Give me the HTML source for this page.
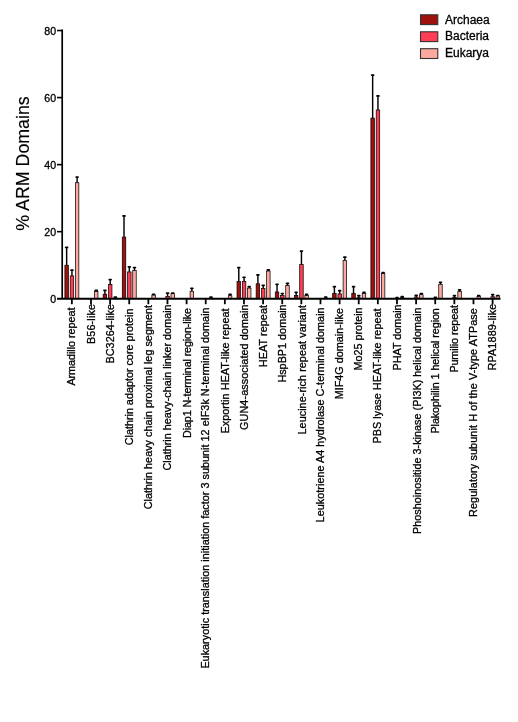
<!DOCTYPE html>
<html><head><meta charset="utf-8"><title>ARM domains</title>
<style>
html,body{margin:0;padding:0;background:#fff;}
svg{display:block;}
text{font-family:"Liberation Sans",Arial,sans-serif;fill:#000;stroke:#000;stroke-width:0.3px;}
</style></head><body>
<svg width="518" height="722" viewBox="0 0 518 722">
<rect width="518" height="722" fill="#fff"/>
<g><rect x="64.90" y="265.18" width="3.5" height="33.52" fill="#9e110d" stroke="#000" stroke-width="0.72"/>
<line x1="66.65" y1="265.18" x2="66.65" y2="247.41" stroke="#000" stroke-width="1.45"/>
<line x1="65.70" y1="247.41" x2="67.60" y2="247.41" stroke="#000" stroke-width="1.7" stroke-linecap="round"/>
<rect x="70.20" y="275.91" width="3.5" height="22.79" fill="#ff3e55" stroke="#000" stroke-width="0.72"/>
<line x1="71.95" y1="275.91" x2="71.95" y2="270.21" stroke="#000" stroke-width="1.45"/>
<line x1="71.00" y1="270.21" x2="72.90" y2="270.21" stroke="#000" stroke-width="1.7" stroke-linecap="round"/>
<rect x="75.35" y="182.72" width="3.5" height="115.98" fill="#ffa8a0" stroke="#000" stroke-width="0.72"/>
<line x1="77.10" y1="182.72" x2="77.10" y2="177.02" stroke="#000" stroke-width="1.45"/>
<line x1="76.15" y1="177.02" x2="78.05" y2="177.02" stroke="#000" stroke-width="1.7" stroke-linecap="round"/>
<rect x="94.47" y="291.33" width="3.5" height="7.37" fill="#ffa8a0" stroke="#000" stroke-width="0.72"/>
<line x1="96.22" y1="291.33" x2="96.22" y2="290.39" stroke="#000" stroke-width="1.45"/>
<line x1="95.27" y1="290.39" x2="97.17" y2="290.39" stroke="#000" stroke-width="1.7" stroke-linecap="round"/>
<rect x="103.15" y="294.17" width="3.5" height="4.53" fill="#9e110d" stroke="#000" stroke-width="0.72"/>
<line x1="104.90" y1="294.17" x2="104.90" y2="290.39" stroke="#000" stroke-width="1.45"/>
<line x1="103.95" y1="290.39" x2="105.85" y2="290.39" stroke="#000" stroke-width="1.7" stroke-linecap="round"/>
<rect x="108.45" y="284.39" width="3.5" height="14.31" fill="#ff3e55" stroke="#000" stroke-width="0.72"/>
<line x1="110.20" y1="284.39" x2="110.20" y2="279.59" stroke="#000" stroke-width="1.45"/>
<line x1="109.25" y1="279.59" x2="111.15" y2="279.59" stroke="#000" stroke-width="1.7" stroke-linecap="round"/>
<rect x="113.60" y="298.03" width="3.5" height="0.67" fill="#ffa8a0" stroke="#000" stroke-width="0.72"/>
<line x1="115.35" y1="298.03" x2="115.35" y2="297.02" stroke="#000" stroke-width="1.45"/>
<line x1="114.40" y1="297.02" x2="116.30" y2="297.02" stroke="#000" stroke-width="1.7" stroke-linecap="round"/>
<rect x="122.27" y="237.09" width="3.5" height="61.61" fill="#9e110d" stroke="#000" stroke-width="0.72"/>
<line x1="124.02" y1="237.09" x2="124.02" y2="215.91" stroke="#000" stroke-width="1.45"/>
<line x1="123.07" y1="215.91" x2="124.97" y2="215.91" stroke="#000" stroke-width="1.7" stroke-linecap="round"/>
<rect x="127.57" y="271.98" width="3.5" height="26.72" fill="#ff3e55" stroke="#000" stroke-width="0.72"/>
<line x1="129.32" y1="271.98" x2="129.32" y2="266.86" stroke="#000" stroke-width="1.45"/>
<line x1="128.38" y1="266.86" x2="130.27" y2="266.86" stroke="#000" stroke-width="1.7" stroke-linecap="round"/>
<rect x="132.72" y="270.54" width="3.5" height="28.16" fill="#ffa8a0" stroke="#000" stroke-width="0.72"/>
<line x1="134.47" y1="270.54" x2="134.47" y2="267.53" stroke="#000" stroke-width="1.45"/>
<line x1="133.53" y1="267.53" x2="135.42" y2="267.53" stroke="#000" stroke-width="1.7" stroke-linecap="round"/>
<rect x="151.85" y="295.01" width="3.5" height="3.69" fill="#ffa8a0" stroke="#000" stroke-width="0.72"/>
<line x1="153.60" y1="295.01" x2="153.60" y2="294.34" stroke="#000" stroke-width="1.45"/>
<line x1="152.65" y1="294.34" x2="154.55" y2="294.34" stroke="#000" stroke-width="1.7" stroke-linecap="round"/>
<rect x="165.82" y="296.35" width="3.5" height="2.35" fill="#ff3e55" stroke="#000" stroke-width="0.72"/>
<line x1="167.57" y1="296.35" x2="167.57" y2="293.17" stroke="#000" stroke-width="1.45"/>
<line x1="166.62" y1="293.17" x2="168.52" y2="293.17" stroke="#000" stroke-width="1.7" stroke-linecap="round"/>
<rect x="170.97" y="293.67" width="3.5" height="5.03" fill="#ffa8a0" stroke="#000" stroke-width="0.72"/>
<line x1="172.72" y1="293.67" x2="172.72" y2="293.07" stroke="#000" stroke-width="1.45"/>
<line x1="171.78" y1="293.07" x2="173.67" y2="293.07" stroke="#000" stroke-width="1.7" stroke-linecap="round"/>
<rect x="190.10" y="291.19" width="3.5" height="7.51" fill="#ffa8a0" stroke="#000" stroke-width="0.72"/>
<line x1="191.85" y1="291.19" x2="191.85" y2="288.31" stroke="#000" stroke-width="1.45"/>
<line x1="190.90" y1="288.31" x2="192.80" y2="288.31" stroke="#000" stroke-width="1.7" stroke-linecap="round"/>
<rect x="209.22" y="298.03" width="3.5" height="0.67" fill="#ffa8a0" stroke="#000" stroke-width="0.72"/>
<line x1="210.97" y1="298.03" x2="210.97" y2="297.19" stroke="#000" stroke-width="1.45"/>
<line x1="210.03" y1="297.19" x2="211.92" y2="297.19" stroke="#000" stroke-width="1.7" stroke-linecap="round"/>
<rect x="228.35" y="295.68" width="3.5" height="3.02" fill="#ffa8a0" stroke="#000" stroke-width="0.72"/>
<line x1="230.10" y1="295.68" x2="230.10" y2="294.34" stroke="#000" stroke-width="1.45"/>
<line x1="229.15" y1="294.34" x2="231.05" y2="294.34" stroke="#000" stroke-width="1.7" stroke-linecap="round"/>
<rect x="237.03" y="281.47" width="3.5" height="17.23" fill="#9e110d" stroke="#000" stroke-width="0.72"/>
<line x1="238.78" y1="281.47" x2="238.78" y2="267.53" stroke="#000" stroke-width="1.45"/>
<line x1="237.83" y1="267.53" x2="239.72" y2="267.53" stroke="#000" stroke-width="1.7" stroke-linecap="round"/>
<rect x="242.32" y="281.47" width="3.5" height="17.23" fill="#ff3e55" stroke="#000" stroke-width="0.72"/>
<line x1="244.07" y1="281.47" x2="244.07" y2="277.25" stroke="#000" stroke-width="1.45"/>
<line x1="243.12" y1="277.25" x2="245.02" y2="277.25" stroke="#000" stroke-width="1.7" stroke-linecap="round"/>
<rect x="247.47" y="288.11" width="3.5" height="10.59" fill="#ffa8a0" stroke="#000" stroke-width="0.72"/>
<line x1="249.22" y1="288.11" x2="249.22" y2="286.63" stroke="#000" stroke-width="1.45"/>
<line x1="248.28" y1="286.63" x2="250.17" y2="286.63" stroke="#000" stroke-width="1.7" stroke-linecap="round"/>
<rect x="256.15" y="283.78" width="3.5" height="14.92" fill="#9e110d" stroke="#000" stroke-width="0.72"/>
<line x1="257.90" y1="283.78" x2="257.90" y2="274.90" stroke="#000" stroke-width="1.45"/>
<line x1="256.95" y1="274.90" x2="258.85" y2="274.90" stroke="#000" stroke-width="1.7" stroke-linecap="round"/>
<rect x="261.45" y="288.41" width="3.5" height="10.29" fill="#ff3e55" stroke="#000" stroke-width="0.72"/>
<line x1="263.20" y1="288.41" x2="263.20" y2="285.29" stroke="#000" stroke-width="1.45"/>
<line x1="262.25" y1="285.29" x2="264.15" y2="285.29" stroke="#000" stroke-width="1.7" stroke-linecap="round"/>
<rect x="266.60" y="271.01" width="3.5" height="27.69" fill="#ffa8a0" stroke="#000" stroke-width="0.72"/>
<line x1="268.35" y1="271.01" x2="268.35" y2="269.87" stroke="#000" stroke-width="1.45"/>
<line x1="267.40" y1="269.87" x2="269.30" y2="269.87" stroke="#000" stroke-width="1.7" stroke-linecap="round"/>
<rect x="275.28" y="292.00" width="3.5" height="6.70" fill="#9e110d" stroke="#000" stroke-width="0.72"/>
<line x1="277.03" y1="292.00" x2="277.03" y2="284.29" stroke="#000" stroke-width="1.45"/>
<line x1="276.08" y1="284.29" x2="277.98" y2="284.29" stroke="#000" stroke-width="1.7" stroke-linecap="round"/>
<rect x="280.58" y="295.35" width="3.5" height="3.35" fill="#ff3e55" stroke="#000" stroke-width="0.72"/>
<line x1="282.33" y1="295.35" x2="282.33" y2="293.50" stroke="#000" stroke-width="1.45"/>
<line x1="281.38" y1="293.50" x2="283.28" y2="293.50" stroke="#000" stroke-width="1.7" stroke-linecap="round"/>
<rect x="285.73" y="285.39" width="3.5" height="13.31" fill="#ffa8a0" stroke="#000" stroke-width="0.72"/>
<line x1="287.48" y1="285.39" x2="287.48" y2="283.41" stroke="#000" stroke-width="1.45"/>
<line x1="286.53" y1="283.41" x2="288.43" y2="283.41" stroke="#000" stroke-width="1.7" stroke-linecap="round"/>
<rect x="294.40" y="295.58" width="3.5" height="3.12" fill="#9e110d" stroke="#000" stroke-width="0.72"/>
<line x1="296.15" y1="295.58" x2="296.15" y2="292.33" stroke="#000" stroke-width="1.45"/>
<line x1="295.20" y1="292.33" x2="297.10" y2="292.33" stroke="#000" stroke-width="1.7" stroke-linecap="round"/>
<rect x="299.70" y="264.51" width="3.5" height="34.19" fill="#ff3e55" stroke="#000" stroke-width="0.72"/>
<line x1="301.45" y1="264.51" x2="301.45" y2="251.10" stroke="#000" stroke-width="1.45"/>
<line x1="300.50" y1="251.10" x2="302.40" y2="251.10" stroke="#000" stroke-width="1.7" stroke-linecap="round"/>
<rect x="304.85" y="295.58" width="3.5" height="3.12" fill="#ffa8a0" stroke="#000" stroke-width="0.72"/>
<line x1="306.60" y1="295.58" x2="306.60" y2="294.34" stroke="#000" stroke-width="1.45"/>
<line x1="305.65" y1="294.34" x2="307.55" y2="294.34" stroke="#000" stroke-width="1.7" stroke-linecap="round"/>
<rect x="323.98" y="298.03" width="3.5" height="0.67" fill="#ffa8a0" stroke="#000" stroke-width="0.72"/>
<line x1="325.73" y1="298.03" x2="325.73" y2="297.02" stroke="#000" stroke-width="1.45"/>
<line x1="324.78" y1="297.02" x2="326.68" y2="297.02" stroke="#000" stroke-width="1.7" stroke-linecap="round"/>
<rect x="332.65" y="293.34" width="3.5" height="5.36" fill="#9e110d" stroke="#000" stroke-width="0.72"/>
<line x1="334.40" y1="293.34" x2="334.40" y2="286.63" stroke="#000" stroke-width="1.45"/>
<line x1="333.45" y1="286.63" x2="335.35" y2="286.63" stroke="#000" stroke-width="1.7" stroke-linecap="round"/>
<rect x="337.95" y="293.91" width="3.5" height="4.79" fill="#ff3e55" stroke="#000" stroke-width="0.72"/>
<line x1="339.70" y1="293.91" x2="339.70" y2="290.66" stroke="#000" stroke-width="1.45"/>
<line x1="338.75" y1="290.66" x2="340.65" y2="290.66" stroke="#000" stroke-width="1.7" stroke-linecap="round"/>
<rect x="343.10" y="260.32" width="3.5" height="38.38" fill="#ffa8a0" stroke="#000" stroke-width="0.72"/>
<line x1="344.85" y1="260.32" x2="344.85" y2="257.14" stroke="#000" stroke-width="1.45"/>
<line x1="343.90" y1="257.14" x2="345.80" y2="257.14" stroke="#000" stroke-width="1.7" stroke-linecap="round"/>
<rect x="351.78" y="293.34" width="3.5" height="5.36" fill="#9e110d" stroke="#000" stroke-width="0.72"/>
<line x1="353.53" y1="293.34" x2="353.53" y2="286.63" stroke="#000" stroke-width="1.45"/>
<line x1="352.58" y1="286.63" x2="354.48" y2="286.63" stroke="#000" stroke-width="1.7" stroke-linecap="round"/>
<rect x="357.08" y="297.69" width="3.5" height="1.01" fill="#ff3e55" stroke="#000" stroke-width="0.72"/>
<line x1="358.83" y1="297.69" x2="358.83" y2="295.68" stroke="#000" stroke-width="1.45"/>
<line x1="357.88" y1="295.68" x2="359.78" y2="295.68" stroke="#000" stroke-width="1.7" stroke-linecap="round"/>
<rect x="362.23" y="293.34" width="3.5" height="5.36" fill="#ffa8a0" stroke="#000" stroke-width="0.72"/>
<line x1="363.98" y1="293.34" x2="363.98" y2="292.33" stroke="#000" stroke-width="1.45"/>
<line x1="363.03" y1="292.33" x2="364.93" y2="292.33" stroke="#000" stroke-width="1.7" stroke-linecap="round"/>
<rect x="370.90" y="118.13" width="3.5" height="180.57" fill="#9e110d" stroke="#000" stroke-width="0.72"/>
<line x1="372.65" y1="118.13" x2="372.65" y2="75.12" stroke="#000" stroke-width="1.45"/>
<line x1="371.70" y1="75.12" x2="373.60" y2="75.12" stroke="#000" stroke-width="1.7" stroke-linecap="round"/>
<rect x="376.20" y="109.98" width="3.5" height="188.72" fill="#ff3e55" stroke="#000" stroke-width="0.72"/>
<line x1="377.95" y1="109.98" x2="377.95" y2="95.90" stroke="#000" stroke-width="1.45"/>
<line x1="377.00" y1="95.90" x2="378.90" y2="95.90" stroke="#000" stroke-width="1.7" stroke-linecap="round"/>
<rect x="381.35" y="273.56" width="3.5" height="25.14" fill="#ffa8a0" stroke="#000" stroke-width="0.72"/>
<line x1="383.10" y1="273.56" x2="383.10" y2="272.72" stroke="#000" stroke-width="1.45"/>
<line x1="382.15" y1="272.72" x2="384.05" y2="272.72" stroke="#000" stroke-width="1.7" stroke-linecap="round"/>
<rect x="395.33" y="298.36" width="3.5" height="0.34" fill="#ff3e55" stroke="#000" stroke-width="0.72"/>
<line x1="397.08" y1="298.36" x2="397.08" y2="297.69" stroke="#000" stroke-width="1.45"/>
<line x1="396.13" y1="297.69" x2="398.03" y2="297.69" stroke="#000" stroke-width="1.7" stroke-linecap="round"/>
<rect x="400.48" y="297.69" width="3.5" height="1.01" fill="#ffa8a0" stroke="#000" stroke-width="0.72"/>
<line x1="402.23" y1="297.69" x2="402.23" y2="296.69" stroke="#000" stroke-width="1.45"/>
<line x1="401.28" y1="296.69" x2="403.18" y2="296.69" stroke="#000" stroke-width="1.7" stroke-linecap="round"/>
<rect x="414.45" y="297.02" width="3.5" height="1.68" fill="#ff3e55" stroke="#000" stroke-width="0.72"/>
<line x1="416.20" y1="297.02" x2="416.20" y2="295.35" stroke="#000" stroke-width="1.45"/>
<line x1="415.25" y1="295.35" x2="417.15" y2="295.35" stroke="#000" stroke-width="1.7" stroke-linecap="round"/>
<rect x="419.60" y="294.68" width="3.5" height="4.02" fill="#ffa8a0" stroke="#000" stroke-width="0.72"/>
<line x1="421.35" y1="294.68" x2="421.35" y2="293.50" stroke="#000" stroke-width="1.45"/>
<line x1="420.40" y1="293.50" x2="422.30" y2="293.50" stroke="#000" stroke-width="1.7" stroke-linecap="round"/>
<rect x="433.58" y="298.36" width="3.5" height="0.34" fill="#ff3e55" stroke="#000" stroke-width="0.72"/>
<line x1="435.33" y1="298.36" x2="435.33" y2="297.36" stroke="#000" stroke-width="1.45"/>
<line x1="434.38" y1="297.36" x2="436.28" y2="297.36" stroke="#000" stroke-width="1.7" stroke-linecap="round"/>
<rect x="438.73" y="284.29" width="3.5" height="14.41" fill="#ffa8a0" stroke="#000" stroke-width="0.72"/>
<line x1="440.48" y1="284.29" x2="440.48" y2="282.28" stroke="#000" stroke-width="1.45"/>
<line x1="439.53" y1="282.28" x2="441.43" y2="282.28" stroke="#000" stroke-width="1.7" stroke-linecap="round"/>
<rect x="452.70" y="297.36" width="3.5" height="1.34" fill="#ff3e55" stroke="#000" stroke-width="0.72"/>
<line x1="454.45" y1="297.36" x2="454.45" y2="295.68" stroke="#000" stroke-width="1.45"/>
<line x1="453.50" y1="295.68" x2="455.40" y2="295.68" stroke="#000" stroke-width="1.7" stroke-linecap="round"/>
<rect x="457.85" y="291.33" width="3.5" height="7.37" fill="#ffa8a0" stroke="#000" stroke-width="0.72"/>
<line x1="459.60" y1="291.33" x2="459.60" y2="289.82" stroke="#000" stroke-width="1.45"/>
<line x1="458.65" y1="289.82" x2="460.55" y2="289.82" stroke="#000" stroke-width="1.7" stroke-linecap="round"/>
<rect x="476.98" y="296.35" width="3.5" height="2.35" fill="#ffa8a0" stroke="#000" stroke-width="0.72"/>
<line x1="478.73" y1="296.35" x2="478.73" y2="295.52" stroke="#000" stroke-width="1.45"/>
<line x1="477.78" y1="295.52" x2="479.68" y2="295.52" stroke="#000" stroke-width="1.7" stroke-linecap="round"/>
<rect x="490.95" y="296.69" width="3.5" height="2.01" fill="#ff3e55" stroke="#000" stroke-width="0.72"/>
<line x1="492.70" y1="296.69" x2="492.70" y2="294.68" stroke="#000" stroke-width="1.45"/>
<line x1="491.75" y1="294.68" x2="493.65" y2="294.68" stroke="#000" stroke-width="1.7" stroke-linecap="round"/>
<rect x="496.10" y="295.88" width="3.5" height="2.82" fill="#ffa8a0" stroke="#000" stroke-width="0.72"/>
<line x1="497.85" y1="295.88" x2="497.85" y2="295.52" stroke="#000" stroke-width="1.45"/>
<line x1="496.90" y1="295.52" x2="498.80" y2="295.52" stroke="#000" stroke-width="1.7" stroke-linecap="round"/></g>
<line x1="62.2" y1="29.6" x2="62.2" y2="298.70" stroke="#000" stroke-width="1.7"/>
<line x1="57" y1="298.70" x2="500.5" y2="298.70" stroke="#000" stroke-width="1.9"/>
<line x1="57" y1="231.66" x2="62.5" y2="231.66" stroke="#000" stroke-width="1.6"/>
<line x1="57" y1="164.62" x2="62.5" y2="164.62" stroke="#000" stroke-width="1.6"/>
<line x1="57" y1="97.58" x2="62.5" y2="97.58" stroke="#000" stroke-width="1.6"/>
<line x1="57" y1="30.54" x2="62.5" y2="30.54" stroke="#000" stroke-width="1.6"/>
<line x1="71.85" y1="298.70" x2="71.85" y2="304.2" stroke="#000" stroke-width="1.8"/>
<line x1="90.97" y1="298.70" x2="90.97" y2="304.2" stroke="#000" stroke-width="1.8"/>
<line x1="110.10" y1="298.70" x2="110.10" y2="304.2" stroke="#000" stroke-width="1.8"/>
<line x1="129.22" y1="298.70" x2="129.22" y2="304.2" stroke="#000" stroke-width="1.8"/>
<line x1="148.35" y1="298.70" x2="148.35" y2="304.2" stroke="#000" stroke-width="1.8"/>
<line x1="167.47" y1="298.70" x2="167.47" y2="304.2" stroke="#000" stroke-width="1.8"/>
<line x1="186.60" y1="298.70" x2="186.60" y2="304.2" stroke="#000" stroke-width="1.8"/>
<line x1="205.72" y1="298.70" x2="205.72" y2="304.2" stroke="#000" stroke-width="1.8"/>
<line x1="224.85" y1="298.70" x2="224.85" y2="304.2" stroke="#000" stroke-width="1.8"/>
<line x1="243.97" y1="298.70" x2="243.97" y2="304.2" stroke="#000" stroke-width="1.8"/>
<line x1="263.10" y1="298.70" x2="263.10" y2="304.2" stroke="#000" stroke-width="1.8"/>
<line x1="282.23" y1="298.70" x2="282.23" y2="304.2" stroke="#000" stroke-width="1.8"/>
<line x1="301.35" y1="298.70" x2="301.35" y2="304.2" stroke="#000" stroke-width="1.8"/>
<line x1="320.48" y1="298.70" x2="320.48" y2="304.2" stroke="#000" stroke-width="1.8"/>
<line x1="339.60" y1="298.70" x2="339.60" y2="304.2" stroke="#000" stroke-width="1.8"/>
<line x1="358.73" y1="298.70" x2="358.73" y2="304.2" stroke="#000" stroke-width="1.8"/>
<line x1="377.85" y1="298.70" x2="377.85" y2="304.2" stroke="#000" stroke-width="1.8"/>
<line x1="396.98" y1="298.70" x2="396.98" y2="304.2" stroke="#000" stroke-width="1.8"/>
<line x1="416.10" y1="298.70" x2="416.10" y2="304.2" stroke="#000" stroke-width="1.8"/>
<line x1="435.23" y1="298.70" x2="435.23" y2="304.2" stroke="#000" stroke-width="1.8"/>
<line x1="454.35" y1="298.70" x2="454.35" y2="304.2" stroke="#000" stroke-width="1.8"/>
<line x1="473.48" y1="298.70" x2="473.48" y2="304.2" stroke="#000" stroke-width="1.8"/>
<line x1="492.60" y1="298.70" x2="492.60" y2="304.2" stroke="#000" stroke-width="1.8"/>
<text x="56.1" y="302.50" font-size="10.6" text-anchor="end">0</text>
<text x="56.1" y="236.26" font-size="10.6" text-anchor="end">20</text>
<text x="56.1" y="169.22" font-size="10.6" text-anchor="end">40</text>
<text x="56.1" y="102.18" font-size="10.6" text-anchor="end">60</text>
<text x="56.1" y="35.14" font-size="10.6" text-anchor="end">80</text>
<text transform="translate(75.00,385.60) rotate(-90)" font-size="10.8" textLength="78.00" lengthAdjust="spacing">Armadillo repeat</text>
<text transform="translate(95.00,344.00) rotate(-90)" font-size="10.8" textLength="40.00" lengthAdjust="spacing">B56-like</text>
<text transform="translate(114.00,363.60) rotate(-90)" font-size="10.8" textLength="59.60" lengthAdjust="spacing">BC3264-like</text>
<text transform="translate(133.40,445.30) rotate(-90)" font-size="10.8" textLength="136.80" lengthAdjust="spacing">Clathrin adaptor core protein</text>
<text transform="translate(152.40,509.30) rotate(-90)" font-size="10.8" textLength="204.30" lengthAdjust="spacing">Clathrin heavy chain proximal leg segment</text>
<text transform="translate(171.30,470.50) rotate(-90)" font-size="10.8" textLength="166.10" lengthAdjust="spacing">Clathrin heavy-chain linker domain</text>
<text transform="translate(190.50,437.90) rotate(-90)" font-size="10.8" textLength="129.95" lengthAdjust="spacing">Diap1 N-terminal region-like</text>
<text transform="translate(209.10,668.60) rotate(-90)" font-size="10.8" textLength="361.20" lengthAdjust="spacing">Eukaryotic translation initiation factor 3 subunit 12 eIF3k N-terminal domain</text>
<text transform="translate(228.50,433.50) rotate(-90)" font-size="10.8" textLength="125.10" lengthAdjust="spacing">Exportin HEAT-like repeat</text>
<text transform="translate(248.30,429.90) rotate(-90)" font-size="10.8" textLength="125.50" lengthAdjust="spacing">GUN4-associated domain</text>
<text transform="translate(267.20,367.20) rotate(-90)" font-size="10.8" textLength="62.20" lengthAdjust="spacing">HEAT repeat</text>
<text transform="translate(286.40,382.60) rotate(-90)" font-size="10.8" textLength="78.20" lengthAdjust="spacing">HspBP1 domain</text>
<text transform="translate(305.50,434.50) rotate(-90)" font-size="10.8" textLength="129.50" lengthAdjust="spacing">Leucine-rich repeat variant</text>
<text transform="translate(324.10,522.40) rotate(-90)" font-size="10.8" textLength="215.00" lengthAdjust="spacing">Leukotriene A4 hydrolase C-terminal domain</text>
<text transform="translate(342.80,399.30) rotate(-90)" font-size="10.8" textLength="91.35" lengthAdjust="spacing">MIF4G domain-like</text>
<text transform="translate(362.20,370.60) rotate(-90)" font-size="10.8" textLength="63.20" lengthAdjust="spacing">Mo25 protein</text>
<text transform="translate(381.40,443.50) rotate(-90)" font-size="10.8" textLength="135.10" lengthAdjust="spacing">PBS lyase HEAT-like repeat</text>
<text transform="translate(401.40,370.40) rotate(-90)" font-size="10.8" textLength="66.00" lengthAdjust="spacing">PHAT domain</text>
<text transform="translate(420.50,534.00) rotate(-90)" font-size="10.8" textLength="226.60" lengthAdjust="spacing">Phoshoinositide 3-kinase (PI3K) helical domain</text>
<text transform="translate(439.30,433.50) rotate(-90)" font-size="10.8" textLength="125.40" lengthAdjust="spacing">Plakophilin 1 helical region</text>
<text transform="translate(458.00,372.60) rotate(-90)" font-size="10.8" textLength="67.60" lengthAdjust="spacing">Pumilio repeat</text>
<text transform="translate(477.30,517.00) rotate(-90)" font-size="10.8" textLength="208.90" lengthAdjust="spacing">Regulatory subunit H of the V-type ATPase</text>
<text transform="translate(496.00,370.50) rotate(-90)" font-size="10.8" textLength="66.90" lengthAdjust="spacing">RPA1889-like</text>
<text transform="translate(28.9,163.5) rotate(-90)" font-size="17.8" text-anchor="middle" style="stroke-width:0.15px">% ARM Domains</text>
<rect x="420.5" y="14.80" width="17.3" height="9.8" fill="#9e110d" stroke="#333" stroke-width="1.1"/>
<text x="445" y="23.7" font-size="12">Archaea</text>
<rect x="420.5" y="31.80" width="17.3" height="9.8" fill="#ff3e55" stroke="#333" stroke-width="1.1"/>
<text x="445" y="40.4" font-size="12">Bacteria</text>
<rect x="420.5" y="48.70" width="17.3" height="9.8" fill="#ffa8a0" stroke="#333" stroke-width="1.1"/>
<text x="445" y="57.0" font-size="12">Eukarya</text>
</svg>
</body></html>
